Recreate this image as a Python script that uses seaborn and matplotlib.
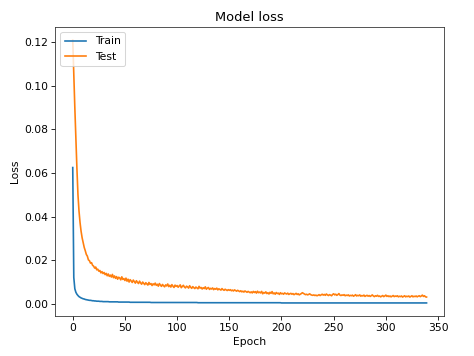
import numpy as np
import pandas as pd
import matplotlib
matplotlib.use("Agg")
import matplotlib.pyplot as plt
import seaborn as sns

title = "Model loss"
x_label = "Epoch"
y_label = "Loss"
series_names = ["Train", "Test"]

train_loss = [
    0.0625, 0.0120, 0.0068, 0.0052, 0.0043, 0.0037, 0.0032, 0.0029, 0.0026, 0.0024,
    0.0022, 0.0021, 0.0019, 0.0018, 0.0017, 0.0016, 0.0015, 0.0015, 0.0014, 0.0013,
    0.0013, 0.0012, 0.0012, 0.0011, 0.0011, 0.0011, 0.0010, 0.0010, 0.0010, 0.0009,
    0.0009, 0.0009, 0.0009, 0.0009, 0.0009, 0.0008, 0.0008, 0.0008, 0.0008, 0.0008,
    0.0008, 0.0008, 0.0008, 0.0008, 0.0007, 0.0007, 0.0007, 0.0007, 0.0007, 0.0007,
    0.0007, 0.0007, 0.0007, 0.0007, 0.0007, 0.0006, 0.0006, 0.0006, 0.0006, 0.0006,
    0.0006, 0.0006, 0.0006, 0.0006, 0.0006, 0.0006, 0.0006, 0.0006, 0.0006, 0.0006,
    0.0006, 0.0006, 0.0006, 0.0006, 0.0006, 0.0005, 0.0005, 0.0005, 0.0005, 0.0005,
    0.0005, 0.0005, 0.0005, 0.0005, 0.0005, 0.0005, 0.0005, 0.0005, 0.0005, 0.0005,
    0.0005, 0.0005, 0.0005, 0.0005, 0.0005, 0.0005, 0.0005, 0.0005, 0.0005, 0.0005,
    0.0005, 0.0005, 0.0005, 0.0005, 0.0005, 0.0005, 0.0005, 0.0005, 0.0005, 0.0005,
    0.0005, 0.0005, 0.0005, 0.0005, 0.0005, 0.0005, 0.0005, 0.0005, 0.0005, 0.0005,
    0.0004, 0.0004, 0.0004, 0.0004, 0.0004, 0.0004, 0.0004, 0.0004, 0.0004, 0.0004,
    0.0004, 0.0004, 0.0004, 0.0004, 0.0004, 0.0004, 0.0004, 0.0004, 0.0004, 0.0004,
    0.0004, 0.0004, 0.0004, 0.0004, 0.0004, 0.0004, 0.0004, 0.0004, 0.0004, 0.0004,
    0.0004, 0.0004, 0.0004, 0.0004, 0.0004, 0.0004, 0.0004, 0.0004, 0.0004, 0.0004,
    0.0004, 0.0004, 0.0004, 0.0004, 0.0004, 0.0004, 0.0004, 0.0004, 0.0004, 0.0004,
    0.0004, 0.0004, 0.0004, 0.0004, 0.0004, 0.0004, 0.0004, 0.0004, 0.0004, 0.0004,
    0.0004, 0.0004, 0.0004, 0.0004, 0.0004, 0.0004, 0.0004, 0.0004, 0.0004, 0.0004,
    0.0004, 0.0004, 0.0004, 0.0004, 0.0004, 0.0004, 0.0004, 0.0004, 0.0004, 0.0004,
    0.0003, 0.0003, 0.0003, 0.0003, 0.0003, 0.0003, 0.0003, 0.0003, 0.0003, 0.0003,
    0.0003, 0.0003, 0.0003, 0.0003, 0.0003, 0.0003, 0.0003, 0.0003, 0.0003, 0.0003,
    0.0003, 0.0003, 0.0003, 0.0003, 0.0003, 0.0003, 0.0003, 0.0003, 0.0003, 0.0003,
    0.0003, 0.0003, 0.0003, 0.0003, 0.0003, 0.0003, 0.0003, 0.0003, 0.0003, 0.0003,
    0.0003, 0.0003, 0.0003, 0.0003, 0.0003, 0.0003, 0.0003, 0.0003, 0.0003, 0.0003,
    0.0003, 0.0003, 0.0003, 0.0003, 0.0003, 0.0003, 0.0003, 0.0003, 0.0003, 0.0003,
    0.0003, 0.0003, 0.0003, 0.0003, 0.0003, 0.0003, 0.0003, 0.0003, 0.0003, 0.0003,
    0.0003, 0.0003, 0.0003, 0.0003, 0.0003, 0.0003, 0.0003, 0.0003, 0.0003, 0.0003,
    0.0003, 0.0003, 0.0003, 0.0003, 0.0003, 0.0003, 0.0003, 0.0003, 0.0003, 0.0003,
    0.0003, 0.0003, 0.0003, 0.0003, 0.0003, 0.0003, 0.0003, 0.0003, 0.0003, 0.0003,
    0.0003, 0.0003, 0.0003, 0.0003, 0.0003, 0.0003, 0.0003, 0.0003, 0.0003, 0.0003,
    0.0003, 0.0003, 0.0003, 0.0003, 0.0003, 0.0003, 0.0003, 0.0003, 0.0003, 0.0003,
    0.0003, 0.0003, 0.0003, 0.0003, 0.0003, 0.0003, 0.0003, 0.0003, 0.0003, 0.0003,
    0.0003, 0.0003, 0.0003, 0.0003, 0.0003, 0.0003, 0.0003, 0.0003, 0.0003, 0.0003,
]

test_loss = [
    0.1210, 0.1050, 0.0900, 0.0760, 0.0620, 0.0500, 0.0425, 0.0372, 0.0332, 0.0302,
    0.0281, 0.0258, 0.0243, 0.0226, 0.0218, 0.0201, 0.0197, 0.0186, 0.0188, 0.0176,
    0.0172, 0.0163, 0.0168, 0.0155, 0.0158, 0.0149, 0.0152, 0.0141, 0.0147, 0.0138,
    0.0143, 0.0133, 0.0139, 0.0128, 0.0136, 0.0125, 0.0131, 0.0122, 0.0134, 0.0119,
    0.0127, 0.0116, 0.0124, 0.0112, 0.0121, 0.0118, 0.0109, 0.0123, 0.0111, 0.0115,
    0.0106, 0.0117, 0.0103, 0.0112, 0.0099, 0.0110, 0.0104, 0.0097, 0.0108, 0.0101,
    0.0094, 0.0105, 0.0098, 0.0092, 0.0103, 0.0095, 0.0089, 0.0099, 0.0093, 0.0087,
    0.0096, 0.0090, 0.0085, 0.0097, 0.0088, 0.0092, 0.0083, 0.0091, 0.0086, 0.0094,
    0.0084, 0.0089, 0.0080, 0.0092, 0.0085, 0.0079, 0.0088, 0.0082, 0.0077, 0.0086,
    0.0081, 0.0090, 0.0078, 0.0084, 0.0076, 0.0087, 0.0080, 0.0074, 0.0085, 0.0079,
    0.0083, 0.0075, 0.0081, 0.0086, 0.0073, 0.0079, 0.0084, 0.0076, 0.0072, 0.0080,
    0.0077, 0.0071, 0.0082, 0.0075, 0.0070, 0.0078, 0.0073, 0.0069, 0.0076, 0.0072,
    0.0068, 0.0079, 0.0071, 0.0074, 0.0067, 0.0073, 0.0069, 0.0077, 0.0066, 0.0071,
    0.0074, 0.0065, 0.0070, 0.0067, 0.0072, 0.0064, 0.0069, 0.0066, 0.0071, 0.0063,
    0.0068, 0.0065, 0.0062, 0.0069, 0.0064, 0.0061, 0.0066, 0.0063, 0.0060, 0.0064,
    0.0061, 0.0064, 0.0059, 0.0062, 0.0058, 0.0063, 0.0060, 0.0057, 0.0061, 0.0058,
    0.0055, 0.0059, 0.0054, 0.0057, 0.0053, 0.0058, 0.0055, 0.0052, 0.0056, 0.0053,
    0.0050, 0.0054, 0.0049, 0.0056, 0.0051, 0.0055, 0.0048, 0.0057, 0.0050, 0.0053,
    0.0049, 0.0056, 0.0045, 0.0051, 0.0048, 0.0054, 0.0046, 0.0050, 0.0044, 0.0052,
    0.0047, 0.0055, 0.0045, 0.0049, 0.0043, 0.0051, 0.0046, 0.0048, 0.0042, 0.0050,
    0.0045, 0.0047, 0.0043, 0.0049, 0.0046, 0.0044, 0.0048, 0.0042, 0.0045, 0.0047,
    0.0043, 0.0046, 0.0041, 0.0044, 0.0047, 0.0042, 0.0045, 0.0040, 0.0043, 0.0046,
    0.0050, 0.0047, 0.0044, 0.0041, 0.0043, 0.0040, 0.0042, 0.0045, 0.0041, 0.0039,
    0.0038, 0.0040, 0.0037, 0.0039, 0.0036, 0.0038, 0.0041, 0.0037, 0.0040, 0.0043,
    0.0039, 0.0042, 0.0038, 0.0044, 0.0040, 0.0037, 0.0041, 0.0039, 0.0036, 0.0042,
    0.0045, 0.0040, 0.0043, 0.0038, 0.0041, 0.0046, 0.0039, 0.0037, 0.0040, 0.0038,
    0.0041, 0.0036, 0.0039, 0.0037, 0.0040, 0.0035, 0.0038, 0.0036, 0.0039, 0.0034,
    0.0037, 0.0041, 0.0035, 0.0038, 0.0036, 0.0040, 0.0034, 0.0037, 0.0035, 0.0039,
    0.0033, 0.0036, 0.0038, 0.0034, 0.0037, 0.0033, 0.0036, 0.0040, 0.0035, 0.0032,
    0.0036, 0.0034, 0.0038, 0.0033, 0.0035, 0.0031, 0.0034, 0.0037, 0.0032, 0.0035,
    0.0039, 0.0033, 0.0036, 0.0032, 0.0035, 0.0031, 0.0034, 0.0037, 0.0032, 0.0035,
    0.0033, 0.0036, 0.0031, 0.0034, 0.0032, 0.0035, 0.0030, 0.0033, 0.0036, 0.0031,
    0.0034, 0.0032, 0.0035, 0.0030, 0.0033, 0.0036, 0.0031, 0.0034, 0.0032, 0.0035,
    0.0031, 0.0034, 0.0036, 0.0032, 0.0035, 0.0039, 0.0033, 0.0036, 0.0031, 0.0030,
]

epochs = np.arange(len(test_loss))

df = pd.DataFrame({
    "epoch": np.concatenate([epochs, epochs]),
    "loss": np.concatenate([train_loss, test_loss]),
    "series": [series_names[0]] * len(train_loss) + [series_names[1]] * len(test_loss),
})

plt.rcParams["font.family"] = ["DejaVu Sans"]
plt.rcParams["font.size"] = 10.5
fig = plt.figure(figsize=(474 / 74, 356 / 74), dpi=74)
ax = fig.add_axes([55 / 474, 1 - 316 / 356, (444.3 - 55) / 474, (316 - 26.7) / 356])

sns.lineplot(data=df, x="epoch", y="loss", hue="series",
             palette=["#1f77b4", "#ff7f0e"], linewidth=1.6, ax=ax, legend=True)

ax.set_title(title)
ax.set_xlabel(x_label)
ax.set_ylabel(y_label)
ax.set_xticks([0, 50, 100, 150, 200, 250, 300, 350])
ax.set_yticks([0.00, 0.02, 0.04, 0.06, 0.08, 0.10, 0.12])
ax.yaxis.set_major_formatter(matplotlib.ticker.FormatStrFormatter("%.2f"))
ax.set_xlim(-17, 356)
ax.set_ylim(-0.0057, 0.1272)
for s in ax.spines.values():
    s.set_color("#333333")
handles, labels = ax.get_legend_handles_labels()
ax.legend(handles, labels, loc="upper left", title=None)

fig.savefig("out.png", dpi=74)
